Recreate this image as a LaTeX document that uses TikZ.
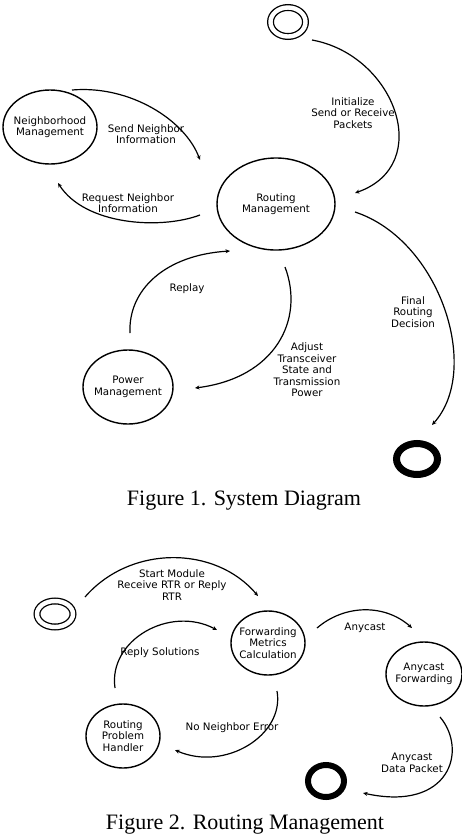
\documentclass[tikz,border=0pt]{standalone}
\usepackage{fontspec}
\setmainfont{Liberation Serif}
\newfontfamily\lblfont{DejaVu Sans}
\usetikzlibrary{arrows.meta,shapes.geometric}

\tikzset{
  module/.style={draw, ellipse, inner sep=0pt, line width=1.4pt},
  mtext/.style={align=center, inner sep=0pt, text=black, font=\lblfont\fontsize{10.3}{11.5}\selectfont},
  flowlbl/.style={mtext},
  initring/.style={draw, ellipse, inner sep=0pt, double, double distance=4.4pt, line width=1.3pt},
  finalring/.style={draw, ellipse, inner sep=0pt},
  flow/.style={line width=1.2pt, -{Stealth[length=4.5pt,width=4pt]}},
  caption/.style={anchor=base, inner sep=0pt, font=\fontsize{22}{26}\selectfont}
}

\begin{document}
\begin{tikzpicture}[x=1pt, y=-1pt]
        \useasboundingbox (0,0) rectangle (462,836);
        \node [initring, minimum width=35, minimum height=29] (start1) at (288,22) {};
        \node [module, minimum width=94, minimum height=74, label={[mtext]center:Neighborhood\\Management}] (nbr) at (50,127) {};
        \node [module, minimum width=118, minimum height=92, label={[mtext]center:Routing\\Management}] (rout) at (276,204) {};
        \node [module, minimum width=90, minimum height=74, label={[mtext]center:Power\\Management}] (pow) at (128,387) {};
        \node [finalring, line width=7pt, minimum width=41, minimum height=31] (end1) at (417,459) {};

        \coordinate (init-a) at (312,40);
        \coordinate (init-b) at (355,193);
        \coordinate (send-a) at (72,90);
        \coordinate (send-b) at (200,160);
        \coordinate (req-a) at (200,215);
        \coordinate (req-b) at (58,183);
        \coordinate (rep-a) at (130,333);
        \coordinate (rep-b) at (230,251);
        \coordinate (adj-a) at (285,267);
        \coordinate (adj-b) at (195,388);
        \coordinate (fin-a) at (355,212);
        \coordinate (fin-b) at (432,425);

        \draw [flow] (init-a) .. controls (395,55) and (435,165) .. (init-b);
        \draw [flow] (send-a) .. controls (130,85) and (185,120) .. (send-b);
        \draw [flow] (req-a) .. controls (160,230) and (85,225) .. (req-b);
        \draw [flow] (rep-a) .. controls (128,290) and (165,255) .. (rep-b);
        \draw [flow] (adj-a) .. controls (305,320) and (275,378) .. (adj-b);
        \draw [flow] (fin-a) .. controls (440,240) and (482,370) .. (fin-b);

        \node [flowlbl] (l-init) at (353,113) {Initialize\\Send or Receive\\Packets};
        \node [flowlbl] (l-send) at (146,134) {Send Neighbor\\Information};
        \node [flowlbl] (l-req) at (128,203) {Request Neighbor\\Information};
        \node [flowlbl] (l-rep) at (187,289) {Replay};
        \node [flowlbl] (l-adj) at (307,370) {Adjust\\Transceiver\\State and\\Transmission\\Power};
        \node [flowlbl] (l-fin) at (413,312) {Final\\Routing\\Decision};

        \node [caption] (cap1) at (244,505) {Figure 1. System Diagram};

        \node [initring, minimum width=36, minimum height=26] (start2) at (55,614) {};
        \node [module, minimum width=74, minimum height=64, label={[mtext]center:Forwarding\\Metrics\\Calculation}] (fmc) at (268,643) {};
        \node [module, minimum width=76, minimum height=64, label={[mtext]center:Anycast\\Forwarding}] (afw) at (424,674) {};
        \node [module, minimum width=74, minimum height=64, label={[mtext]center:Routing\\Problem\\Handler}] (rph) at (123,736) {};
        \node [finalring, line width=6pt, minimum width=36, minimum height=32] (end2) at (326,781) {};

        \coordinate (sm-a) at (85,597);
        \coordinate (sm-b) at (258,596);
        \coordinate (rs-a) at (115,688);
        \coordinate (rs-b) at (217,630);
        \coordinate (nn-a) at (277,691);
        \coordinate (nn-b) at (175,750);
        \coordinate (ac-a) at (317,628);
        \coordinate (ac-b) at (412,628);
        \coordinate (dp-a) at (440,717);
        \coordinate (dp-b) at (363,793);

        \draw [flow] (sm-a) .. controls (130,545) and (215,545) .. (sm-b);
        \draw [flow] (rs-a) .. controls (108,640) and (170,605) .. (rs-b);
        \draw [flow] (nn-a) .. controls (285,735) and (225,772) .. (nn-b);
        \draw [flow] (ac-a) .. controls (345,604) and (385,604) .. (ac-b);
        \draw [flow] (dp-a) .. controls (468,750) and (450,812) .. (dp-b);

        \node [flowlbl] (l-sm) at (172,585) {Start Module\\Receive RTR or Reply\\RTR};
        \node [flowlbl] (l-rs) at (160,653) {Reply Solutions};
        \node [flowlbl] (l-nn) at (232,728) {No Neighbor Error};
        \node [flowlbl] (l-ac) at (365,628) {Anycast};
        \node [flowlbl] (l-dp) at (412,763) {Anycast\\Data Packet};

        \node [caption] (cap2) at (245,829) {Figure 2. Routing Management};
    \end{tikzpicture}
\end{document}
